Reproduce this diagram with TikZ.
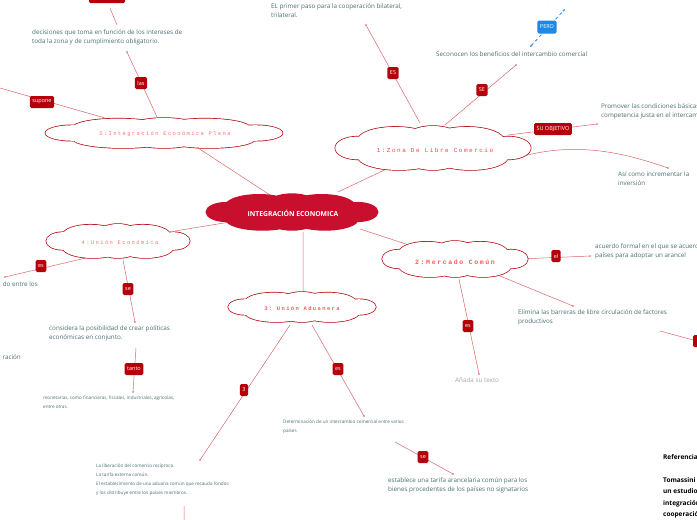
\documentclass[tikz,border=0pt]{standalone}
\usepackage{fontspec}
\setmainfont{Open Sans}
\newfontfamily\monof[LetterSpace=25]{Liberation Mono}
\usetikzlibrary{arrows.meta}
\definecolor{dred}{HTML}{B5000A}
\definecolor{crim}{HTML}{C8102E}
\definecolor{lnk}{HTML}{D9676A}
\definecolor{txt}{HTML}{4A6E6E}
\definecolor{pblue}{HTML}{1E88E5}
\newcommand\puffpath[4]{% x y w h
  (#1-0.40*#3,#2) ellipse [x radius=0.12*#3, y radius=0.26*#4]
  (#1+0.40*#3,#2) ellipse [x radius=0.12*#3, y radius=0.26*#4]
  (#1-0.20*#3,#2-0.18*#4) ellipse [x radius=0.2*#3, y radius=0.3*#4]
  (#1+0.18*#3,#2-0.16*#4) ellipse [x radius=0.2*#3, y radius=0.32*#4]
  (#1-0.00*#3,#2-0.20*#4) ellipse [x radius=0.15*#3, y radius=0.3*#4]
  (#1-0.18*#3,#2+0.20*#4) ellipse [x radius=0.22*#3, y radius=0.3*#4]
  (#1+0.20*#3,#2+0.20*#4) ellipse [x radius=0.2*#3, y radius=0.3*#4]
  (#1+0.00*#3,#2+0.22*#4) ellipse [x radius=0.15*#3, y radius=0.28*#4]}
\newcommand\mycloud[5]{%
  \draw[#5,line width=1.4pt] \puffpath{#1}{#2}{#3}{#4};
  \fill[#5,draw=none] \puffpath{#1}{#2}{#3}{#4};}
\begin{document}
\begin{tikzpicture}[x=1pt,y=-1pt,
  ct/.style={font=\monof\fontsize{5.5}{7}\selectfont,text=red!55,inner sep=0pt},
  lbl/.style={fill=dred,rounded corners=1.5pt,text=white,font=\fontsize{5.5}{6}\selectfont,inner sep=2.5pt,minimum height=12pt},
  tx/.style={align=left,anchor=north west,text=txt,font=\fontsize{6.3}{9}\selectfont,inner sep=0pt},
  sm/.style={align=left,anchor=north west,text=txt,font=\fontsize{4.6}{9}\selectfont,inner sep=0pt},
  ln/.style={draw=lnk,line width=0.5pt},
  bk/.style={align=left,anchor=north west,font=\bfseries\fontsize{6.5}{11.5}\selectfont,inner sep=0pt}]
\clip (0,0) rectangle (697,520);
\fill[white] (0,0) rectangle (697,520);
\coordinate (c5a) at (270,195); \coordinate (c5b) at (195,146);
\coordinate (c1a) at (338,192); \coordinate (c1b) at (395,165);
\coordinate (c4a) at (230,222); \coordinate (c4b) at (175,231);
\coordinate (c3a) at (303,232); \coordinate (c3b) at (303,293);
\coordinate (c2a) at (360,229); \coordinate (c2b) at (415,247);
\coordinate (e1) at (127,52); \coordinate (e2) at (0,88); \coordinate (e3) at (117,25);
\coordinate (e4) at (366,25); \coordinate (e5) at (516,65); \coordinate (e6) at (597,124);
\coordinate (e7) at (668,168); \coordinate (e8) at (590,256); \coordinate (e9) at (573,306);
\coordinate (e10) at (479,374); \coordinate (e11) at (364,416); \coordinate (e12) at (200,460);
\coordinate (e13) at (5,277); \coordinate (e14) at (135,322); \coordinate (e15) at (133,392);
\coordinate (s1) at (157,117); \coordinate (s2) at (105,118); \coordinate (s3) at (420,123);
\coordinate (s4) at (445,125); \coordinate (s5) at (508,135); \coordinate (s6) at (520,157);
\coordinate (s7) at (520,259); \coordinate (s8) at (500,276); \coordinate (s9) at (459,279);
\coordinate (s10) at (312,325); \coordinate (s11) at (290,325); \coordinate (s12) at (90,257);
\coordinate (s13) at (123,260); \coordinate (s14) at (136,348);
\coordinate (t1) at (110,8); \coordinate (t2) at (395,442); \coordinate (t3) at (453,474);
\coordinate (t4) at (660,331); \coordinate (t4b) at (697,341); \coordinate (t5) at (184,506); \coordinate (t6) at (184,520);
\coordinate (p1) at (530,47); \coordinate (p2) at (565,9);
\draw[ln] (c5a)--(c5b) (c1a)--(c1b) (c4a)--(c4b) (c3a)--(c3b) (c2a)--(c2b);
\draw[ln] (s1)--(e1) (s2)--(e2) (t1)--(e3) (s3)--(e4) (s4)--(e5) (s5)--(e6) (s7)--(e8) (s8)--(e9) (s9)--(e10) (s10)--(e11) (s11)--(e12) (s12)--(e13) (s13)--(e14) (s14)--(e15) (t2)--(t3) (t4)--(t4b) (t5)--(t6);
\draw[ln] (s6) .. controls (580,140) and (630,155) .. (e7);
\foreach \e in {e1,e4,e5,e6,e7,e8,e9,e10,e11,e12,e13,e14,e15,t3}{\fill[lnk] (\e) circle (0.9);}
\draw[pblue,dashed,line width=0.8pt,{Stealth[length=3pt]}-{Stealth[length=3pt]}] (p1)--(p2);
% clouds
\mycloud{292}{212}{165}{36}{draw=crim,fill=crim}
\node[text=white,font=\bfseries\fontsize{6.8}{8}\selectfont] (cen) at (293,213) {INTEGRACIÓN ECONOMICA};
\mycloud{164}{133}{228}{30}{draw=dred,fill=white}
\node[ct] (n5) at (165,134) {5:Integración~Económica~Plena};
\mycloud{433}{148}{188}{44}{draw=dred,fill=white}
\node[ct,font=\monof\fontsize{6}{7}\selectfont,text=red!75] (n1) at (435,150) {1:Zona~De~Libre~Comercio};
\mycloud{455}{259}{140}{36}{draw=dred,fill=white}
\node[ct,font=\monof\bfseries\fontsize{6.5}{7}\selectfont,text=red!65] (n2) at (455,262) {2:Mercado~Común};
\mycloud{302}{307}{142}{30}{draw=dred,fill=white}
\node[ct,font=\monof\bfseries\fontsize{5.5}{7}\selectfont,text=red!65] (n3) at (302,309) {3:~Unión~Aduanera};
\mycloud{118}{241}{138}{34}{draw=dred,fill=white}
\node[ct] (n4) at (120,243) {4:Unión~Económica};
% labels
\node[lbl,minimum width=36pt] (b0) at (107,-3) {};
\node[lbl] (b1) at (141,83) {las};
\node[lbl] (b2) at (42,102) {supone};
\node[lbl] (b3) at (393,73) {ES};
\node[lbl] (b4) at (482,90) {SE};
\node[lbl] (b5) at (553,129) {SU OBJETIVO};
\node[lbl] (b6) at (556,256) {el};
\node[lbl] (b7) at (41,266) {es};
\node[lbl] (b8) at (128,289) {se};
\node[lbl] (b9) at (134,369) {tanto};
\node[lbl] (b10) at (244,390) {3};
\node[lbl] (b11) at (338,369) {es};
\node[lbl] (b12) at (468,326) {es};
\node[lbl] (b13) at (423,457) {se};
\node[lbl,minimum width=14pt] (b14) at (700,341) {};
\node[fill=pblue,rounded corners=1.5pt,text=white,font=\fontsize{5.5}{6}\selectfont,inner sep=2.5pt,minimum height=13pt] (pero) at (547,27) {PERO};
% texts
\node[tx] (x1) at (32,29) {decisiones que toma en función de los intereses de\\toda la zona y de cumplimiento obligatorio.};
\node[tx] (x2) at (271,3) {EL primer paso para la cooperación bilateral,\\trilateral.};
\node[bk,font=\bfseries\fontsize{4.5}{6}\selectfont] (x0) at (510,-4) {se mantienen algunos controles fronterizos};
\node[tx] (x3) at (436,51) {Seconocen los beneficios del intercambio comercial};
\node[tx] (x4) at (601,103) {Promover las condiciones básicas de\\competencia justa en el intercambio};
\node[tx] (x5) at (618,171) {Así como incrementar la\\inversión};
\node[tx] (x6) at (595,243) {acuerdo formal en el que se acuerdan\\países para adoptar un arancel};
\node[tx] (x7) at (518,309) {Elimina las barreras de libre circulación de factores\\productivos};
\node[tx,text=black!35] (x8) at (455,378) {Añada su texto};
\node[sm] (x9) at (283,420) {Determinación de un intercambio comercial entre varios\\países};
\node[tx] (x10) at (388,477) {establece una tarifa arancelaria común para los\\bienes procedentes de los países no signatarios};
\node[tx] (x11) at (49,325) {considera la posibilidad de crear políticas\\económicas en conjunto.};
\node[sm] (x12) at (43,396) {monetarias, como financieras, fiscales, industriales, agrícolas,\\entre otras.};
\node[sm] (x13) at (96,464) {La liberación del comercio recíproco.\\La tarifa externa común.\\El establecimiento de una aduana común que recauda fondos\\y los distribuye entre los países miembros.};
\node[tx,anchor=north east] (x14) at (38,282) {do entre los};
\node[tx,anchor=north east] (x15) at (21,354) {ración};
\node[bk] (x16) at (663,454) {Referencias};
\node[bk] (x17) at (663,477) {Tomassini\\un estudio\\integración\\cooperación};
\end{tikzpicture}
\end{document}
